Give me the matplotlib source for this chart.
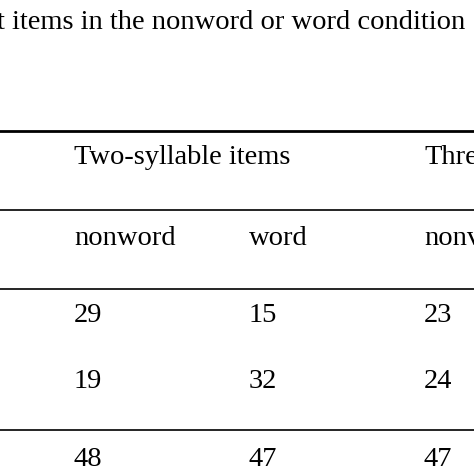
import matplotlib.pyplot as plt

title = "t items in the nonword or word condition"
group_labels = ["Two-syllable items", "Thre"]
sub_labels = ["nonword", "word", "nonv"]
rows = [["29", "15", "23"],
        ["19", "32", "24"],
        ["48", "47", "47"]]

plt.rcParams['font.family'] = ['Liberation Serif', 'DejaVu Serif']

fig = plt.figure(figsize=(4.74, 4.74), dpi=100)
ax = fig.add_axes([0, 0, 1, 1])
ax.set_xlim(0, 474)
ax.set_ylim(474, 0)
ax.axis('off')

fs = 20.5
col_x = [74, 249, 424]
ax.text(-3, 22, title, fontsize=fs, va='center', ha='left')

for y, lw in [(131, 2.0), (210, 1.2), (289, 1.2), (430, 1.2)]:
    ax.axhline(y, color='black', lw=lw)

ax.text(col_x[0], 157, group_labels[0], fontsize=fs, va='center')
ax.text(col_x[2], 157, group_labels[1], fontsize=fs, va='center')
for x, s in zip(col_x, sub_labels):
    ax.text(x, 238, s, fontsize=fs, va='center')
for y, row in zip([316, 381, 460], rows):
    for x, s in zip(col_x, row):
        ax.text(x, y, s, fontsize=fs, va='center')

fig.savefig("out.png", dpi=100)
